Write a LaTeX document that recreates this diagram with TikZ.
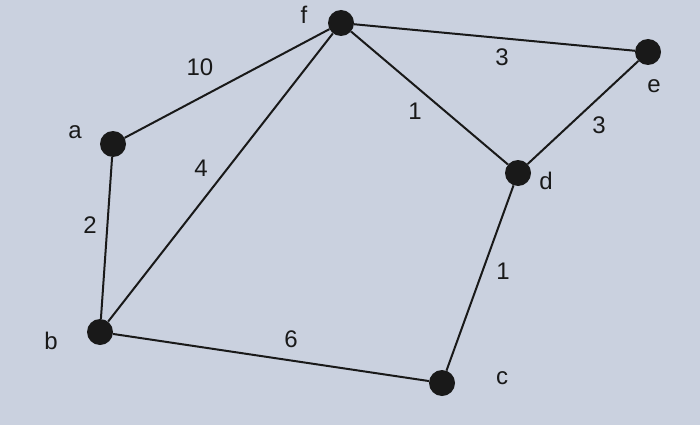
\documentclass[tikz,border=0pt]{standalone}
\usepackage{fontspec}
\setmainfont{Liberation Sans}
\begin{document}
\begin{tikzpicture}[x=1pt,y=-1pt,
  vertex/.style={circle,fill=black!90,minimum size=26pt,inner sep=0pt},
  lbl/.style={font=\fontsize{24}{28}\selectfont,text=black!90,inner sep=0pt},
  edge/.style={line width=2pt,black!90}]
\fill[fill={rgb,255:red,202;green,209;blue,223}] (0,0) rectangle (700,425);
\useasboundingbox (0,0) rectangle (700,425);
\node[vertex] (f) at (341,23) {};
\node[vertex] (e) at (648,52) {};
\node[vertex] (a) at (113,144) {};
\node[vertex] (d) at (518,173) {};
\node[vertex] (b) at (100,332) {};
\node[vertex] (c) at (442,383) {};
\node[lbl] (lf) at (304,15) {f};
\node[lbl] (le) at (654,86) {e};
\node[lbl] (la) at (75,132) {a};
\node[lbl] (ld) at (546,181) {d};
\node[lbl] (lb) at (51,341) {b};
\node[lbl] (lc) at (502,378) {c};
\draw[edge] (a) -- (f);
\draw[edge] (f) -- (e);
\draw[edge] (f) -- (d);
\draw[edge] (e) -- (d);
\draw[edge] (b) -- (f);
\draw[edge] (a) -- (b);
\draw[edge] (d) -- (c);
\draw[edge] (b) -- (c);
\node[lbl] (w1) at (200,67) {10};
\node[lbl] (w2) at (502,57) {3};
\node[lbl] (w3) at (415,111) {1};
\node[lbl] (w4) at (599,125) {3};
\node[lbl] (w5) at (201,168) {4};
\node[lbl] (w6) at (90,225) {2};
\node[lbl] (w7) at (503,271) {1};
\node[lbl] (w8) at (291,339) {6};
\end{tikzpicture}
\end{document}
